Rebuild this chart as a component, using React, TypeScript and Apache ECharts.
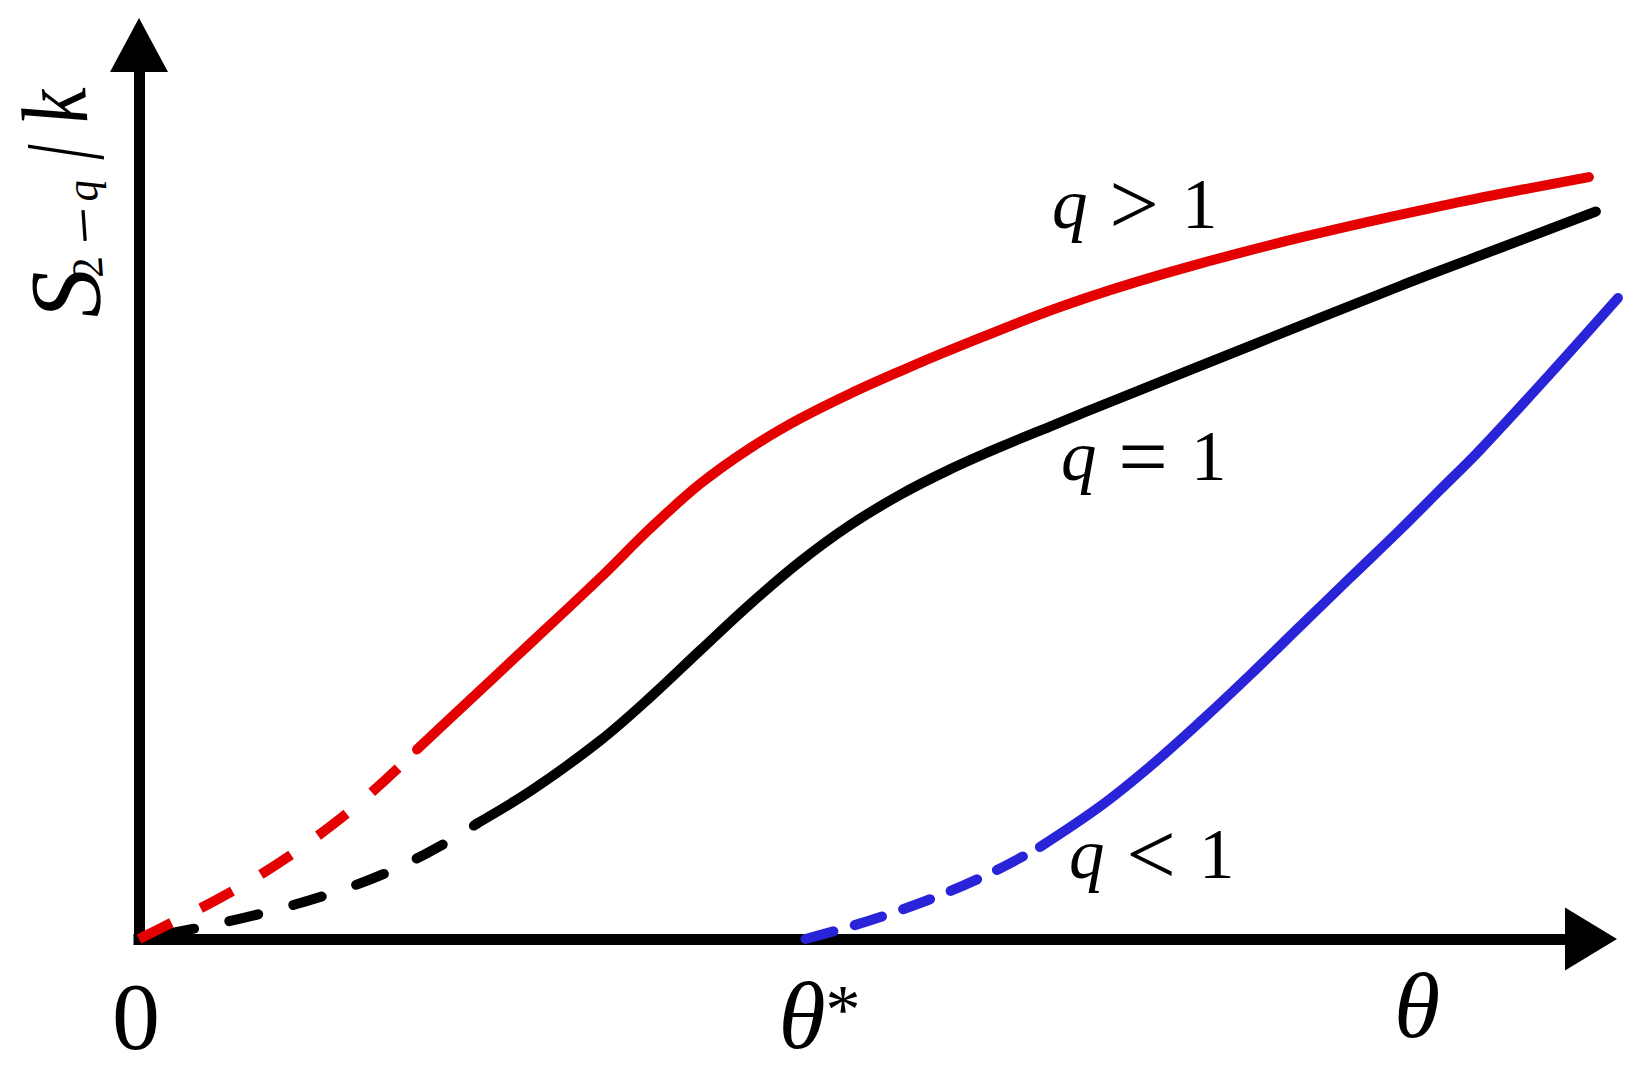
import React, { useEffect, useRef } from 'react';
import * as echarts from 'echarts';

// Axis extents (arbitrary units, the figure has no numeric ticks)
const X_MAX = 100;
const X_DRAW_MAX = 102; // hidden drawing axis, same scale, so curves may run up to the arrow tip
const Y_MAX = 100;
const THETA_STAR = 45.9;

// Tick / axis labels
const xTickLabels = ['0', 'θ', 'θ'];
const curveLabels = ['>', '=', '<'];

// q > 1 (red): dashed near the origin, then solid
const redDashed: [number, number][] = [
  [0, 0], [2.34, 1.9], [4.34, 3.52], [6.47, 5.39], [8.47, 7.3], [10.54, 9.49],
  [12.26, 11.48], [14.19, 13.89], [15.91, 16.24], [17.77, 18.99], [19.15, 21.2],
];
const redSolid: [number, number][] = [
  [19.15, 21.2], [22.59, 26.45], [27.13, 33.33], [31.75, 40.38], [35.19, 45.9],
  [38.64, 50.9], [42.08, 54.9], [45.52, 58.2], [48.97, 61.0], [52.41, 63.5],
  [56.06, 66.0], [63.43, 70.7], [70.8, 74.51], [79.96, 78.45], [90.29, 82.21], [99.86, 85.23],
];

// q = 1 (black)
const blackDashed: [number, number][] = [
  [0, 0], [4.41, 1.36], [8.88, 3.04], [13.29, 5.12], [17.49, 7.72], [21.63, 11.21], [23.28, 12.92],
];
const blackSolid: [number, number][] = [
  [23.28, 12.92], [27.13, 16.73], [31.75, 22.17], [35.19, 27.01], [38.64, 32.27],
  [42.08, 37.45], [45.52, 42.2], [48.97, 46.29], [52.41, 49.68], [55.85, 52.53],
  [59.3, 55.02], [62.74, 57.32], [67.56, 60.51], [76.52, 66.33], [86.84, 73.04],
  [93.73, 77.29], [100.34, 81.38],
];

// q < 1 (blue): starts at theta*
const blueDashed: [number, number][] = [
  [THETA_STAR, 0], [48.97, 1.39], [52.41, 3.21], [55.85, 5.34], [59.3, 7.89], [62.05, 10.29],
];
const blueSolid: [number, number][] = [
  [62.05, 10.29], [66.18, 14.82], [69.63, 19.3], [73.07, 24.27], [76.52, 29.53],
  [79.96, 34.96], [83.4, 40.38], [86.84, 45.75], [89.6, 50.22], [92.36, 54.7],
  [97.18, 63.2], [101.86, 71.7],
];

const RED = '#e40000';
const BLUE = '#2a24d8';
const BLACK = '#000000';
const FONT = '"Liberation Serif", "Times New Roman", serif';
const CENTRAL = 0.3375; // central baseline above alphabetic baseline, in em

function lineSeries(data: [number, number][], color: string, dash: number[] | null, cap: string, z: number) {
  return {
    type: 'line',
    xAxisIndex: 1,
    yAxisIndex: 1,
    data,
    showSymbol: false,
    symbol: 'none',
    smooth: 0.35,
    clip: false,
    silent: true,
    z,
    lineStyle: {
      color,
      width: 10,
      type: dash ? dash : 'solid',
      cap,
      join: 'round',
    },
  };
}

function relLabel(x: number, y: number, op: string) {
  return {
    type: 'text',
    x,
    y,
    silent: true,
    style: {
      text: `{q|q}{op|${op}}{n|1}`,
      align: 'left',
      verticalAlign: 'middle',
      fill: '#000',
      rich: {
        q: { fontFamily: FONT, fontStyle: 'italic', fontSize: 71, width: 34, align: 'left', verticalAlign: 'middle', fill: '#000' },
        op: { fontFamily: FONT, fontSize: 88, width: 96, align: 'center', verticalAlign: 'middle', fill: '#000' },
        n: { fontFamily: FONT, fontSize: 71, align: 'left', verticalAlign: 'middle', fill: '#000' },
      },
    },
  };
}

// one glyph run of the rotated y-axis name, placed on a local baseline
function glyph(text: string, x: number, baseline: number, size: number, italic: boolean, scaleX = 1) {
  return {
    type: 'text',
    x,
    y: baseline - CENTRAL * size,
    scaleX,
    silent: true,
    style: {
      text,
      fontFamily: FONT,
      fontStyle: italic ? 'italic' : 'normal',
      fontSize: size,
      lineHeight: size,
      align: 'left',
      verticalAlign: 'middle',
      fill: '#000',
    },
  };
}

const hiddenAxis = {
  show: false,
  type: 'value',
  axisLine: { show: false },
  axisTick: { show: false },
  axisLabel: { show: false },
  splitLine: { show: false },
};

export default function App() {
  const ref = useRef<HTMLDivElement>(null);

  useEffect(() => {
    if (!ref.current) return;
    const chart = echarts.init(ref.current, null, { renderer: 'svg' });
    chart.setOption({
      animation: false,
      backgroundColor: '#ffffff',
      grid: [
        { left: 139, right: 43, top: 45, bottom: 131, containLabel: false, outerBoundsMode: 'none' },
        { left: 139, right: 14, top: 45, bottom: 131, containLabel: false, outerBoundsMode: 'none' },
      ],
      xAxis: [
        {
          gridIndex: 0,
          type: 'value',
          min: 0,
          max: X_MAX,
          axisLine: {
            show: true,
            symbol: ['none', 'triangle'],
            symbolSize: [63, 52],
            lineStyle: { color: BLACK, width: 11, cap: 'square' },
          },
          axisTick: { show: false },
          axisLabel: { show: false },
          splitLine: { show: false },
        },
        { ...hiddenAxis, gridIndex: 1, min: 0, max: X_DRAW_MAX },
      ],
      yAxis: [
        {
          gridIndex: 0,
          type: 'value',
          min: 0,
          max: Y_MAX,
          axisLine: {
            show: true,
            symbol: ['none', 'triangle'],
            symbolSize: [58, 54],
            lineStyle: { color: BLACK, width: 11, cap: 'square' },
          },
          axisTick: { show: false },
          axisLabel: { show: false },
          splitLine: { show: false },
        },
        { ...hiddenAxis, gridIndex: 1, min: 0, max: Y_MAX },
      ],
      series: [
        lineSeries(blueDashed, BLUE, [29, 22], 'round', 3),
        lineSeries(blueSolid, BLUE, null, 'round', 3),
        lineSeries(blackDashed, BLACK, [56, 36, 30, 36, 30, 36, 30, 36, 30, 36], 'round', 4),
        lineSeries(blackSolid, BLACK, null, 'round', 4),
        lineSeries(redDashed, RED, [36, 33], 'butt', 5),
        lineSeries(redSolid, RED, null, 'round', 5),
      ],
    });

    const zeroX = chart.convertToPixel({ xAxisIndex: 0 }, 0) as number;
    const starX = chart.convertToPixel({ xAxisIndex: 0 }, THETA_STAR) as number;

    chart.setOption({
      graphic: [
        {
          type: 'text',
          x: zeroX - 3,
          y: 1016,
          silent: true,
          style: { text: xTickLabels[0], fontFamily: FONT, fontSize: 96, lineHeight: 76, align: 'center', verticalAlign: 'middle', fill: '#000' },
        },
        {
          type: 'text',
          x: starX - 27,
          y: 1015,
          silent: true,
          style: {
            text: `{t|${xTickLabels[1]}}{s|*}`,
            align: 'left',
            verticalAlign: 'middle',
            fill: '#000',
            rich: {
              t: { fontFamily: FONT, fontStyle: 'italic', fontSize: 96, lineHeight: 80, verticalAlign: 'middle', fill: '#000' },
              s: { fontFamily: FONT, fontSize: 70, lineHeight: 60, padding: [0, 0, 12, 0], verticalAlign: 'middle', fill: '#000' },
            },
          },
        },
        {
          type: 'text',
          x: 1417,
          y: 1005,
          silent: true,
          style: { text: xTickLabels[2], fontFamily: FONT, fontStyle: 'italic', fontSize: 94, lineHeight: 80, align: 'center', verticalAlign: 'middle', fill: '#000' },
        },
        relLabel(1052, 204, curveLabels[0]),
        relLabel(1061, 456, curveLabels[1]),
        relLabel(1069, 854, curveLabels[2]),
        {
          type: 'group',
          x: 101,
          y: 315,
          rotation: (94 * Math.PI) / 180,
          silent: true,
          children: [
            glyph('S', -2, 0, 100, true),
            glyph('2', 37, 5, 44, false),
            glyph('−', 72, 11, 66, false),
            glyph('q', 114, 5, 44, true),
            {
              type: 'text',
              x: 165,
              y: -25,
              scaleX: 0.65,
              silent: true,
              style: {
                text: '/',
                fontFamily: FONT,
                fontSize: 112,
                lineHeight: 112,
                align: 'center',
                verticalAlign: 'middle',
                fill: '#000',
              },
            },
            glyph('k', 193, 0, 94, true, 0.85),
          ],
        },
      ],
    });

    return () => chart.dispose();
  }, []);

  return (
    <div
      ref={ref}
      style={{ position: 'absolute', left: 0, top: 0, width: 1634, height: 1070, background: '#fff' }}
    />
  );
}
